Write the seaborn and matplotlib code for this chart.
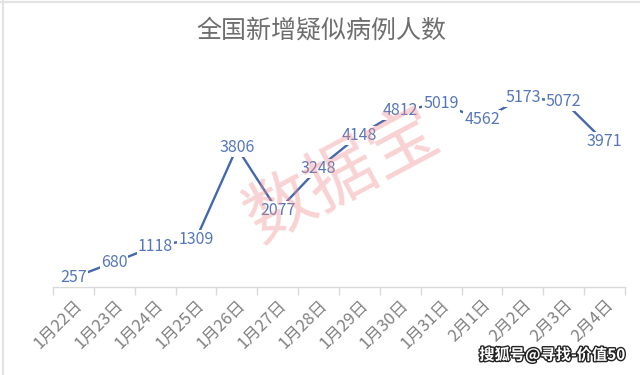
import matplotlib
matplotlib.use("Agg")
import matplotlib.pyplot as plt
import matplotlib.patheffects as pe
from matplotlib.lines import Line2D
import seaborn as sns
import pandas as pd
import numpy as np

# ---- data ----
dates = ["1月22日", "1月23日", "1月24日", "1月25日", "1月26日", "1月27日", "1月28日",
         "1月29日", "1月30日", "1月31日", "2月1日", "2月2日", "2月3日", "2月4日"]
suspected = [257, 680, 1118, 1309, 3806, 2077, 3248, 4148, 4812, 5019, 4562, 5173, 5072, 3971]
title_text = "全国新增疑似病例人数"
watermark_text = "数据宝"
source_text = "搜狐号@寻找-价值50"

df = pd.DataFrame({"pos": np.arange(len(dates)), "value": suspected, "date": dates})

sns.set_theme(style="white")
plt.rcParams["font.family"] = ["Noto Sans CJK SC", "DejaVu Sans"]

fig = plt.figure(figsize=(6.4, 3.75), dpi=100)
fig.patch.set_facecolor("white")
ax = fig.add_axes([53 / 640, (375 - 287) / 375, 572 / 640, 219.7 / 375])

line_color = "#4468ad"
label_color = "#5676bb"

sns.lineplot(data=df, x="pos", y="value", ax=ax, color=line_color, linewidth=1.7,
             zorder=2)

for x, y in zip(df["pos"], df["value"]):
    ax.text(x, y, f"{y}", ha="center", va="center", fontsize=11.5, color=label_color,
            zorder=3,
            bbox=dict(boxstyle="square,pad=0.06", facecolor="white", edgecolor="none"))

ax.set_xlim(-0.5, len(dates) - 0.5)
ax.set_ylim(0, 6000)
ax.set_xlabel("")
ax.set_ylabel("")
ax.set_yticks([])
ax.set_xticks(df["pos"])
ax.set_xticklabels(dates, rotation=45, ha="right", rotation_mode="anchor",
                   fontsize=12, color="#808080")
ax.set_xticks(np.arange(-0.5, len(dates)), minor=True)
ax.tick_params(axis="x", which="major", length=0, pad=7)
ax.tick_params(axis="x", which="minor", length=6, width=1, color="#d9d9d9",
               direction="out", bottom=True)
for s in ["top", "right", "left"]:
    ax.spines[s].set_visible(False)
ax.spines["bottom"].set_color("#d9d9d9")
ax.spines["bottom"].set_linewidth(1)
ax.patch.set_alpha(0)

fig.text(321 / 640, 1 - 31 / 375, title_text, ha="center", va="center",
         fontsize=18, color="#6e6e6e")

fig.text(342 / 640, 1 - 176 / 375, watermark_text, ha="center", va="center",
         fontsize=50, color="#f08a8a", alpha=0.38, rotation=28, zorder=10)

fig.text(625 / 640, 1 - 355 / 375, source_text, ha="right", va="center",
         fontsize=11, fontweight="bold", color="white",
         path_effects=[pe.withStroke(linewidth=2.0, foreground="#222222")])

# faint border of the screenshot
fig.add_artist(Line2D([0, 1], [1 - 1.5 / 375, 1 - 1.5 / 375], transform=fig.transFigure,
                      color="#e3e3e3", linewidth=1.5))
fig.add_artist(Line2D([2.5 / 640, 2.5 / 640], [0, 1], transform=fig.transFigure,
                      color="#e3e3e3", linewidth=1.5))

fig.savefig("out.png", dpi=100)
